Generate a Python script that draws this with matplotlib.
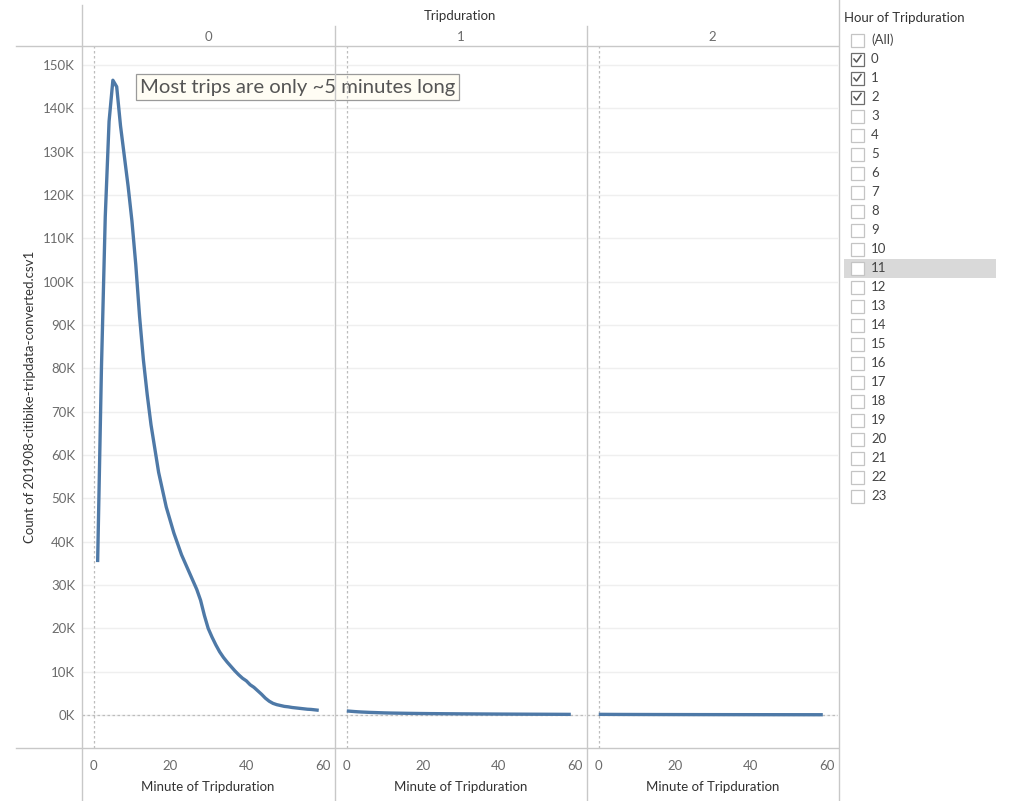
import matplotlib
matplotlib.use("Agg")
import matplotlib.pyplot as plt
from matplotlib.patches import Rectangle
from matplotlib.lines import Line2D
from matplotlib.ticker import FuncFormatter

plt.rcParams['font.family'] = ['Lato', 'DejaVu Sans']

# data: count of trips by minute of trip duration, one panel per hour
hours = ['0', '1', '2']
minutes_h0 = list(range(1, 60))
counts_h0 = [35300, 80000, 115000, 137000, 146500, 145000, 136000, 129000, 122000, 114000,
             104000, 92000, 82000, 74000, 67000, 61500, 56000, 52000, 48000, 45000,
             42000, 39500, 37000, 35000, 33000, 31000, 29000, 26500, 23000, 20000,
             18000, 16200, 14600, 13300, 12200, 11200, 10200, 9300, 8500, 7900,
             7000, 6400, 5600, 4800, 3900, 3200, 2700, 2400, 2200, 2000,
             1900, 1750, 1650, 1550, 1450, 1350, 1300, 1200, 1100]
minutes_h1 = list(range(0, 60))
counts_h1 = [950, 880, 810, 750, 700, 660, 620, 590, 560, 530,
             500, 480, 460, 445, 430, 415, 400, 390, 375, 365,
             355, 345, 335, 330, 320, 315, 305, 300, 295, 285,
             280, 275, 270, 265, 260, 255, 250, 245, 240, 235,
             230, 225, 222, 218, 215, 210, 207, 203, 200, 196,
             193, 190, 186, 183, 180, 176, 172, 168, 164, 160]
minutes_h2 = list(range(0, 60))
counts_h2 = [170, 165, 160, 155, 152, 148, 145, 142, 140, 137,
             135, 133, 131, 129, 127, 125, 123, 121, 120, 118,
             117, 115, 114, 112, 111, 110, 108, 107, 106, 105,
             104, 103, 102, 101, 100, 99, 98, 97, 96, 95,
             94, 93, 92, 91, 91, 90, 89, 88, 88, 87,
             86, 85, 85, 84, 83, 83, 82, 81, 81, 80]
series = [(minutes_h0, counts_h0), (minutes_h1, counts_h1), (minutes_h2, counts_h2)]

y_ticks = [0, 10000, 20000, 30000, 40000, 50000, 60000, 70000,
           80000, 90000, 100000, 110000, 120000, 130000, 140000, 150000]
x_ticks = [0, 20, 40, 60]

legend_title = 'Hour of Tripduration'
legend_items = ['(All)'] + [str(h) for h in range(24)]
checked = ['0', '1', '2']
highlighted = '11'

W, H = 1018, 801
fig = plt.figure(figsize=(W / 100, H / 100), dpi=100)


def fx(x):
    return x / W


def fy(y):
    return 1 - y / H


LINE_BLUE = '#4e79a7'
SEP = '#c8c8c8'
TICK_COL = '#6b6b6b'
TITLE_COL = '#333333'

top, bottom = 46, 748
panel_edges = [(82, 334), (335, 586), (587, 838)]

axes = []
for i, ((l, r), (mx, cnt)) in enumerate(zip(panel_edges, series)):
    ax = fig.add_axes([fx(l), fy(bottom), (r - l) / W, (bottom - top) / H])
    ax.set_xlim(-3.1, 63)
    ax.set_ylim(-7600, 154400)
    for t in y_ticks:
        ax.axhline(t, color='#efefef', lw=1, zorder=0)
    ax.axhline(0, color='#bdbdbd', lw=0.9, ls=(0, (2, 2)), zorder=1)
    ax.axvline(0, color='#bdbdbd', lw=0.9, ls=(0, (2, 2)), zorder=1)
    ax.plot(mx, cnt, color=LINE_BLUE, lw=2.4, solid_capstyle='butt', zorder=3)
    for s in ax.spines.values():
        s.set_visible(False)
    ax.set_xticks(x_ticks)
    ax.tick_params(axis='x', length=0, pad=9, labelsize=9.5, labelcolor=TICK_COL)
    ax.set_xlabel('Minute of Tripduration', fontsize=9.5, color=TITLE_COL, labelpad=6)
    ax.set_yticks(y_ticks)
    if i == 0:
        ax.yaxis.set_major_formatter(FuncFormatter(lambda v, p: f'{int(v / 1000)}K'))
        ax.tick_params(axis='y', length=0, pad=5, labelsize=9.5, labelcolor=TICK_COL)
        ax.set_ylabel('Count of 201908-citibike-tripdata-converted.csv1', fontsize=9.5,
                      color=TITLE_COL, labelpad=5)
    else:
        ax.tick_params(axis='y', length=0, labelleft=False)
    ax.set_facecolor('none')
    axes.append(ax)

# annotation
axes[0].annotate('Most trips are only ~5 minutes long', xy=(0, 0), xycoords='figure fraction',
                 xytext=(fx(140), fy(87)), textcoords='figure fraction',
                 fontsize=14.6, color='#555555', va='center', ha='left',
                 bbox=dict(boxstyle='square,pad=0.2', fc='#fffdf4', ec='#9a9a9a', lw=0.9))

# frame lines around the tableau view
def hline(y, x0, x1):
    fig.add_artist(Line2D([fx(x0), fx(x1)], [fy(y), fy(y)], color=SEP, lw=1))


def vline(x, y0, y1):
    fig.add_artist(Line2D([fx(x), fx(x)], [fy(y0), fy(y1)], color=SEP, lw=1))


hline(top, 16, 838)
hline(bottom, 16, 838)
vline(82, 5, 801)
vline(334.5, 26, 801)
vline(586.5, 26, 801)
vline(838.5, 0, 801)

# headers
fig.text(fx(460), fy(16), 'Tripduration', fontsize=9.5, color=TITLE_COL, ha='center', va='center')
for (l, r), h in zip(panel_edges, hours):
    fig.text(fx((l + r) / 2), fy(37), h, fontsize=9.5, color=TICK_COL, ha='center', va='center')

# filter legend
fig.text(fx(844), fy(18), legend_title, fontsize=9.5, color=TITLE_COL, ha='left', va='center')
for k, item in enumerate(legend_items):
    yc = 40 + k * 19
    if item == highlighted:
        fig.add_artist(Rectangle((fx(844), fy(yc + 9.5)), 152 / W, 19 / H,
                                 fc='#d9d9d9', ec='none'))
    is_checked = item in checked
    fig.add_artist(Rectangle((fx(851), fy(yc + 7)), 13 / W, 13 / H, fc='white',
                             ec='#6e6e6e' if is_checked else '#c4c4c4', lw=0.9))
    if is_checked:
        fig.add_artist(Line2D([fx(854), fx(856.5), fx(861)], [fy(yc), fy(yc + 3), fy(yc - 3.5)],
                              color='#555555', lw=1.1))
    fig.text(fx(871), fy(yc), item, fontsize=9.5, color='#444444', ha='left', va='center')

fig.savefig('out.png', dpi=100)
